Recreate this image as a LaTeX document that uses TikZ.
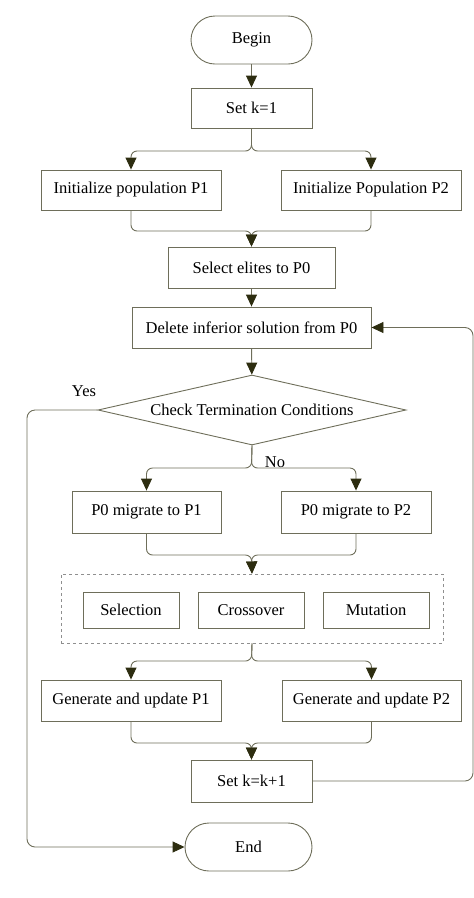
\documentclass[tikz,border=0pt]{standalone}
\usepackage{fontspec}
\setmainfont{Liberation Serif}
\usetikzlibrary{arrows.meta,shapes.geometric,calc}
\definecolor{lc}{HTML}{6E6E5A}
\definecolor{ac}{HTML}{2D2D10}
\definecolor{dc}{HTML}{8F8F8F}
\begin{document}
\begin{tikzpicture}[x=1pt,y=-1pt,
  font=\fontsize{16.5}{18}\selectfont,
  box/.style={draw=lc,line width=0.9pt,rectangle,inner sep=0pt,minimum width=#1},
  term/.style={draw=lc,line width=0.9pt,rectangle,rounded corners=24pt,inner sep=0pt,minimum height=48pt,minimum width=#1},
  conn/.style={draw=lc,line width=0.9pt,rounded corners=6pt},
  arr/.style={conn,-{Triangle[length=12pt,width=11pt,color=ac]}}]
\useasboundingbox (0,0) rectangle (474,898);
\node[term=121pt] (begin) at (251.5,40) {Begin};
\node[box=121pt,minimum height=40pt] (k1) at (251.5,108) {Set k=1};
\node[box=180pt,minimum height=40pt] (p1) at (131,190) {Initialize population P1};
\node[box=180pt,minimum height=40pt] (p2) at (371,190) {Initialize Population P2};
\node[box=167pt,minimum height=41pt] (sel) at (251.5,267.5) {Select elites to P0};
\node[box=239pt,minimum height=41pt] (del) at (251.5,327.5) {Delete inferior solution from P0};
\node[draw=lc,line width=0.9pt,diamond,aspect=4.4,minimum width=308pt,minimum height=70pt,inner sep=0pt] (dia) at (252,410) {Check Termination Conditions};
\node[box=149pt,minimum height=42pt] (m1) at (146.5,512) {P0 migrate to P1};
\node[box=150pt,minimum height=42pt] (m2) at (356,512) {P0 migrate to P2};
\node[draw=dc,line width=0.9pt,dashed,rectangle,minimum width=382pt,minimum height=69pt,inner sep=0pt] (ga) at (252,608.5) {};
\node[box=96pt,minimum height=36pt] (s) at (131,610) {Selection};
\node[box=106pt,minimum height=36pt] (c) at (251,610) {Crossover};
\node[box=106pt,minimum height=36pt] (mu) at (376,610) {Mutation};
\node[box=180pt,minimum height=41pt] (g1) at (131,700.5) {Generate and update P1};
\node[box=179pt,minimum height=41pt] (g2) at (371.5,700.5) {Generate and update P2};
\node[box=121pt,minimum height=42pt] (k2) at (251.5,781) {Set k=k+1};
\node[term=127pt] (end) at (248.5,847) {End};
\node (yes) at (84,391) {Yes};
\node (no) at (275,462) {No};
% junction coordinates
\coordinate (j1) at (251.5,151);
\coordinate (j2) at (251.5,231);
\coordinate (j3) at (251.5,468);
\coordinate (j4) at (251.5,555);
\coordinate (j5) at (251.5,661);
\coordinate (j6) at (251.5,743);
\coordinate (rr) at (473,550);
\coordinate (ll) at (27,600);
% connectors
\draw[arr] (begin) -- (k1);
\draw[arr] (k1.south) -- (j1) -| (p1.north);
\draw[arr] (k1.south) -- (j1) -| (p2.north);
\draw[arr] (p1.south) |- (j2) -- (sel.north);
\draw[arr] (p2.south) |- (j2) -- (sel.north);
\draw[arr] (sel) -- (del);
\draw[arr] (del) -- (dia);
\draw[arr] (dia.south) -- (j3) -| (m1.north);
\draw[arr] (dia.south) -- (j3) -| (m2.north);
\draw[arr] (m1.south) |- (j4) -- (ga.north);
\draw[arr] (m2.south) |- (j4) -- (ga.north);
\draw[arr] (ga.south) -- (j5) -| (g1.north);
\draw[arr] (ga.south) -- (j5) -| (g2.north);
\draw[arr] (g1.south) |- (j6) -- (k2.north);
\draw[arr] (g2.south) |- (j6) -- (k2.north);
\draw[arr,rounded corners=8pt] (k2.east) -| (rr) |- (del.east);
\draw[arr,rounded corners=8pt] (dia.west) -| (ll) |- (end.west);
\end{tikzpicture}
\end{document}
